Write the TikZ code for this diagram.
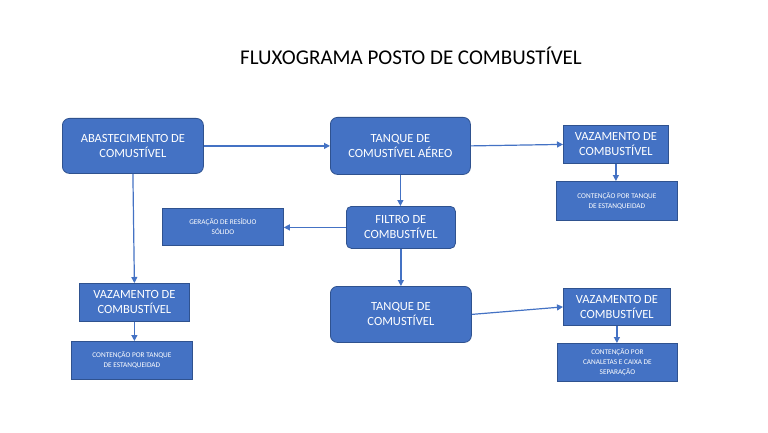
\documentclass[tikz,border=0pt]{standalone}
\usepackage{fontspec}
\setmainfont{Carlito}
\usetikzlibrary{arrows.meta}
\definecolor{fillb}{HTML}{4472C4}
\definecolor{edgeb}{HTML}{2F528F}
\begin{document}
\begin{tikzpicture}[x=1pt,y=-1pt,
  box/.style={draw=edgeb,fill=fillb,text=white,line width=0.8pt,align=center,inner sep=0pt,anchor=north west},
  rbox/.style={box,rounded corners=7pt,font=\fontsize{12.5}{15}\selectfont},
  sbox/.style={box,font=\fontsize{12.5}{15}\selectfont},
  tbox/.style={box,font=\fontsize{7.3}{10}\selectfont},
  arr/.style={draw=fillb,line width=1.2pt,-{Triangle[length=6pt,width=6pt]}}]
\useasboundingbox[fill=white] (0,0) rectangle (768,433);
\node[font=\fontsize{21}{25}\selectfont,anchor=center] (title) at (411,56) {FLUXOGRAMA POSTO DE COMBUSTÍVEL};
\node[rbox,minimum width=141pt,minimum height=55pt] (A) at (62,118) {ABASTECIMENTO DE\\COMUSTÍVEL};
\node[rbox,minimum width=140pt,minimum height=57pt] (B) at (330,117) {TANQUE DE\\COMUSTÍVEL AÉREO};
\node[sbox,minimum width=105pt,minimum height=38pt] (C) at (563,125) {VAZAMENTO DE\\COMBUSTÍVEL};
\node[tbox,minimum width=121pt,minimum height=39pt] (D) at (556,181) {CONTENÇÃO POR TANQUE\\DE ESTANQUEIDAD};
\node[rbox,rounded corners=5pt,minimum width=109pt,minimum height=42pt] (E) at (346,206) {FILTRO DE\\COMBUSTÍVEL};
\node[tbox,minimum width=121pt,minimum height=37pt] (F) at (162,208) {GERAÇÃO DE RESÍDUO\\SÓLIDO};
\node[sbox,minimum width=110pt,minimum height=38pt] (G) at (79,283) {VAZAMENTO DE\\COMBUSTÍVEL};
\node[tbox,minimum width=121pt,minimum height=38pt] (H) at (71,341) {CONTENÇÃO POR TANQUE\\DE ESTANQUEIDAD};
\node[rbox,minimum width=141pt,minimum height=56pt] (I) at (330,286) {TANQUE DE\\COMUSTÍVEL};
\node[sbox,minimum width=107pt,minimum height=37pt] (J) at (563,288) {VAZAMENTO DE\\COMBUSTÍVEL};
\node[tbox,minimum width=120pt,minimum height=38pt] (K) at (557,343) {CONTENÇÃO POR\\CANALETAS E CAIXA DE\\SEPARAÇÃO};
\draw[arr] (A.east) -- (B.west);
\draw[arr] (B.east) -- (C.west);
\draw[arr] (C.south) -- (C.south|-D.north);
\draw[arr] (B.south) -- (B.south|-E.north);
\draw[arr] (E.west) -- (E.west-|F.east);
\draw[arr] (E.south) -- (E.south|-I.north);
\draw[arr] (I.east) -- (J.west);
\draw[arr] (J.south) -- (J.south|-K.north);
\draw[arr] (A.south) -- (G.north);
\draw[arr] (G.south) -- (G.south|-H.north);
\end{tikzpicture}
\end{document}
